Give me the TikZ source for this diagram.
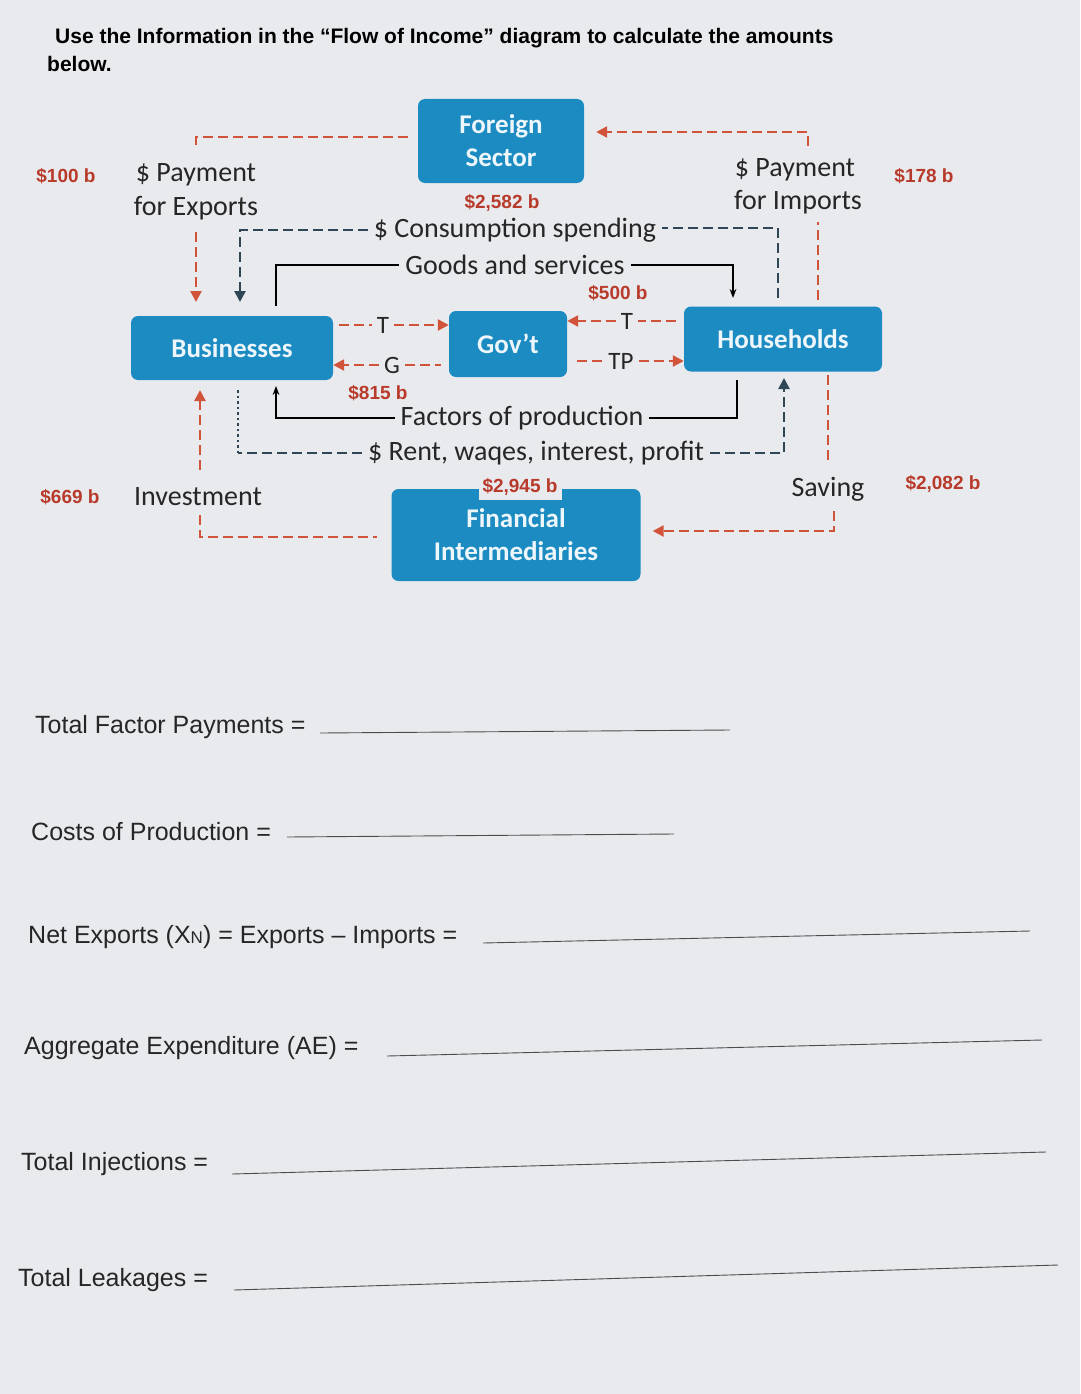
\documentclass[tikz,border=0pt]{standalone}
\usepackage{fontspec}
\setmainfont{Liberation Sans}
\newfontfamily\carfont{Carlito}
\usetikzlibrary{arrows.meta}
\definecolor{bx}{HTML}{1B8BC2}
\definecolor{rd}{HTML}{D0533A}
\definecolor{lab}{HTML}{B83A2A}
\definecolor{dk}{HTML}{2E4656}
\definecolor{bg}{HTML}{E9EAEE}
\tikzset{
 box/.style={fill=bx,rounded corners=7pt,text=white!92!bx,font=\carfont\bfseries\fontsize{27}{33}\selectfont,align=center,inner sep=0pt},
 dtxt/.style={font=\carfont\fontsize{28}{32}\selectfont,text=black!85,inner sep=6pt},
 rlab/.style={font=\bfseries\fontsize{19}{22}\selectfont,text=lab,inner sep=2pt},
 rdash/.style={rd,line width=2.4pt,dash pattern=on 10pt off 5pt},
 bdash/.style={dk,line width=2.4pt,dash pattern=on 10pt off 5pt},
 solid1/.style={black,line width=1.8pt},
 tip/.style={-{Triangle[length=11pt,width=11pt]}},
 ftxt/.style={font=\fontsize{25}{29}\selectfont,anchor=west,inner sep=0pt,text=black!85},
 fline/.style={black!70,line width=0.9pt}
}
\begin{document}
\begin{tikzpicture}[x=1pt,y=-1pt]
\fill[bg] (0,0) rectangle (1080,1394);
\useasboundingbox (0,0) rectangle (1080,1394);
\node[anchor=west,font=\bfseries\fontsize{21}{25}\selectfont,inner sep=0pt] (t1) at (55,38) {Use the Information in the “Flow of Income” diagram to calculate the amounts};
\node[anchor=west,font=\bfseries\fontsize{21}{25}\selectfont,inner sep=0pt] (t2) at (47,64) {below.};
% boxes
\node[box,minimum width=166pt,minimum height=84pt] (fs) at (501,141) {Foreign\\Sector};
\node[box,minimum width=202pt,minimum height=64pt] (bus) at (232,348) {Businesses};
\node[box,minimum width=118pt,minimum height=66pt] (gov) at (508,344) {Gov’t};
\node[box,minimum width=198pt,minimum height=65pt] (hh) at (783,339) {Households};
\node[box,minimum width=249pt,minimum height=92pt] (fi) at (516,535) {Financial\\Intermediaries};
% texts
\node[dtxt] (pe1) at (196,175) {\$ Payment};
\node[dtxt] (pe2) at (196,208) {for Exports};
\node[dtxt] (pi1) at (795,170) {\$ Payment};
\node[dtxt] (pi2) at (798,202) {for Imports};
\node[dtxt] (cs) at (515,230) {\$ Consumption spending};
\node[dtxt] (gs) at (515,265) {Goods and services};
\node[dtxt] (fp) at (522,418) {Factors of production};
\node[dtxt] (rw) at (536,453) {\$ Rent, waqes, interest, profit};
\node[dtxt] (inv) at (198,497) {Investment};
\node[dtxt] (sav) at (828,489) {Saving};
\node[dtxt,font=\carfont\fontsize{25}{29}\selectfont,inner sep=5pt] (tb) at (383,325) {T};
\node[dtxt,font=\carfont\fontsize{25}{29}\selectfont,inner sep=5pt] (gb) at (392,365) {G};
\node[dtxt,font=\carfont\fontsize{25}{29}\selectfont,inner sep=5pt] (th) at (627,321) {T};
\node[dtxt,font=\carfont\fontsize{25}{29}\selectfont,inner sep=5pt] (tp) at (621,361) {TP};
% red labels
\node[rlab] (l1) at (66,176) {\$100 b};
\node[rlab] (l2) at (924,176) {\$178 b};
\node[rlab] (l3) at (502,203) {\$2,582 b};
\node[rlab] (l4) at (618,293) {\$500 b};
\node[rlab] (l5) at (378,393) {\$815 b};
\node[rlab] (l6) at (70,497) {\$669 b};
\node[rlab,fill=bg,inner sep=4pt] (l7) at (520,487) {\$2,945 b};
\node[rlab] (l8) at (943,484) {\$2,082 b};
% coordinates
\coordinate (a1) at (196,137); \coordinate (a2) at (196,146);
\coordinate (a3) at (196,232); \coordinate (a4) at (196,302);
\coordinate (b1) at (818,300); \coordinate (b2) at (818,222);
\coordinate (b3) at (808,146); \coordinate (b4) at (808,132);
\coordinate (c1) at (778,298); \coordinate (c2) at (778,228);
\coordinate (c3) at (240,230); \coordinate (c4) at (240,302);
\coordinate (g1) at (276,306); \coordinate (g2) at (276,265);
\coordinate (g3) at (733,265); \coordinate (g4) at (733,298);
\coordinate (f1) at (737,380); \coordinate (f2) at (737,418);
\coordinate (f3) at (276,418); \coordinate (f4) at (276,386);
\coordinate (r1) at (784,447); \coordinate (r2) at (784,378);
\coordinate (r3) at (238,453); \coordinate (r4) at (238,388);
\coordinate (i1) at (200,470); \coordinate (i2) at (200,390);
\coordinate (i3) at (200,515); \coordinate (i4) at (200,537);
\coordinate (s1) at (828,375); \coordinate (s2) at (828,462);
\coordinate (s3) at (834,511); \coordinate (s4) at (834,531);
% foreign
\draw[rdash] ([xshift=-10pt]fs.west |- a1) -- (a1) -- (a2);
\draw[rdash,tip] (a3) -- (a4);
\draw[rdash] (b1) -- (b2);
\draw[rdash,tip] (b3) -- (b4) -- ([xshift=12pt]fs.east |- b4);
% consumption
\draw[bdash] (c1) -- (c2) -- (cs.east |- c2);
\draw[bdash,tip] (cs.west) -- (c3) -- (c4);
% goods
\draw[solid1] (g1) -- (g2) -- (gs.west);
\draw[solid1,-{Stealth[length=9pt]}] (gs.east) -- (g3) -- (g4);
% factors
\draw[solid1] (f1) -- (f2) -- (fp.east);
\draw[solid1,-{Stealth[length=9pt]}] (fp.west) -- (f3) -- (f4);
% rent
\draw[bdash,tip] (rw.east) -- (rw.east -| r1) -- (r2);
\draw[bdash] (rw.west) -- (r3);
\draw[dk,line width=2.4pt,dash pattern=on 2.5pt off 3pt] (r3) -- (r4);
% gov
\draw[rdash] (bus.east |- tb) ++(6,0) -- (tb.west);
\draw[rdash,tip] (tb.east) -- (gov.west |- tb);
\draw[rdash,tip] (gb.west) -- (bus.east |- gb);
\draw[rdash] (gb.east) -- ([xshift=-8pt]gov.west |- gb);
\draw[rdash] (hh.west |- th) ++(-8,0) -- (th.east);
\draw[rdash,tip] (th.west) -- (gov.east |- th);
\draw[rdash] (gov.east |- tp) ++(10,0) -- (tp.west);
\draw[rdash,tip] (tp.east) -- (hh.west |- tp);
% investment / saving
\draw[rdash,tip] (i1) -- (i2);
\draw[rdash] (i3) -- (i4) -- ([xshift=-14pt]fi.west |- i4);
\draw[rdash] (s1) -- (s2);
\draw[rdash,tip] (s3) -- (s4) -- ([xshift=12pt]fi.east |- s4);
% form
\node[ftxt] (q1) at (35,727) {Total Factor Payments =};
\draw[fline] (320,733) -- (730,730);
\node[ftxt] (q2) at (31,832) {Costs of Production =};
\draw[fline] (287,837) -- (674,834);
\node[ftxt] (q3) at (28,937) {Net Exports (X{\fontsize{17}{20}\selectfont N}) = Exports – Imports =};
\draw[fline] (483,943) -- (1030,931);
\node[ftxt] (q4) at (24,1048) {Aggregate Expenditure (AE) =};
\draw[fline] (387,1056) -- (1042,1040);
\node[ftxt] (q5) at (21,1164) {Total Injections =};
\draw[fline] (232,1174) -- (1046,1152);
\node[ftxt] (q6) at (18,1280) {Total Leakages =};
\draw[fline] (234,1290) -- (1058,1265);
\end{tikzpicture}
\end{document}
